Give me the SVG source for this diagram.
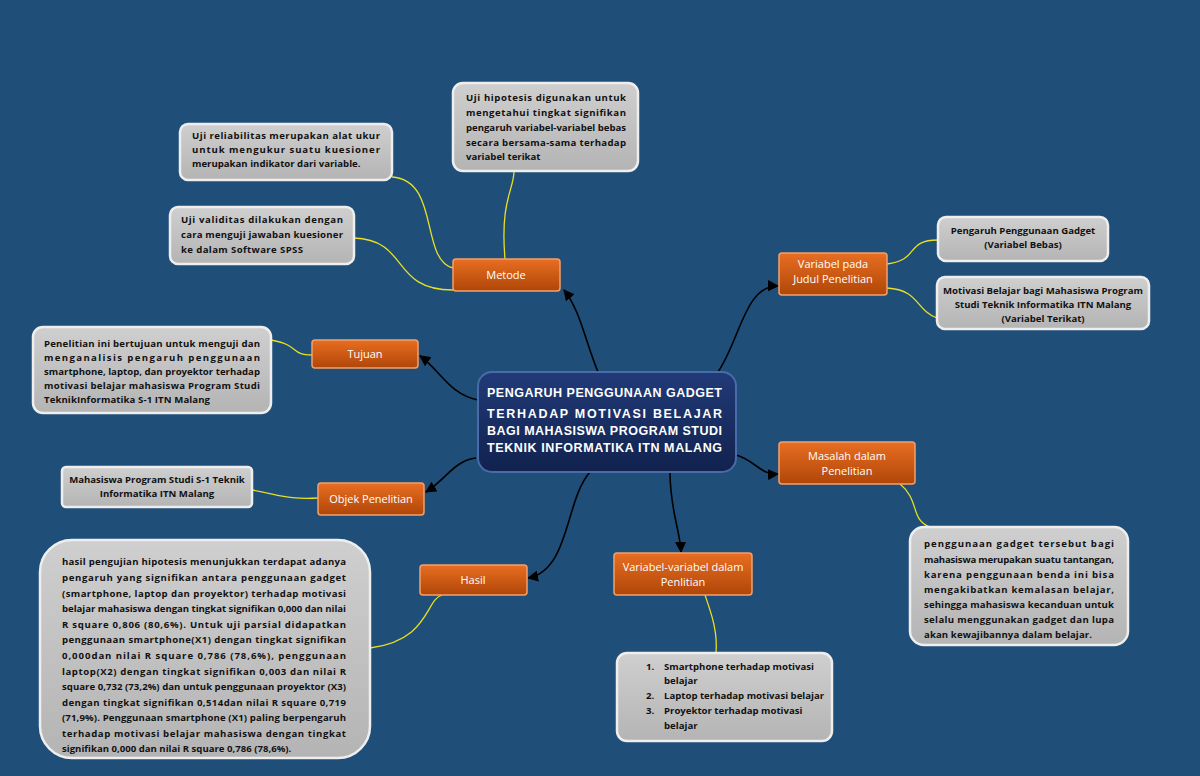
<svg xmlns="http://www.w3.org/2000/svg" width="1200" height="776" viewBox="0 0 1200 776">
<defs>
<linearGradient id="og" x1="0" y1="0" x2="0" y2="1"><stop offset="0" stop-color="#e86e22"/><stop offset="1" stop-color="#b04608"/></linearGradient>
<linearGradient id="gg" x1="0" y1="0" x2="0" y2="1"><stop offset="0" stop-color="#cfcfcf"/><stop offset="1" stop-color="#b4b4b4"/></linearGradient>
<linearGradient id="cg" x1="0" y1="0" x2="0" y2="1"><stop offset="0" stop-color="#213a78"/><stop offset="1" stop-color="#11224e"/></linearGradient>
<marker id="ar" viewBox="0 0 10 10" refX="9" refY="5" markerWidth="7" markerHeight="7" orient="auto"><path d="M0,0L10,5L0,10z" fill="#000"/></marker>
<style>
.o{fill:url(#og);stroke:#f3a06a;stroke-width:1.5}
.g{fill:url(#gg);stroke:#eeeeee;stroke-width:2.5}
.ot{font-family:"Open Sans","Liberation Sans",sans-serif;font-size:11px;fill:#fff;text-anchor:middle}
.t{font-family:"Open Sans","Liberation Sans",sans-serif;font-size:9.6px;font-weight:bold;fill:#111}
.c{font-family:"Liberation Sans",Arial,sans-serif;font-size:12.5px;font-weight:bold;fill:#fff}
.k{fill:none;stroke:#000;stroke-width:1.6;marker-end:url(#ar)}
.y{fill:none;stroke:#e8e020;stroke-width:1.3}
</style>
</defs>
<rect width="1200" height="776" fill="#1f4e79"/>
<g id="connectors">
<path class="k" d="M598,372 C585,340 580,310 564,290"/>
<path class="k" d="M478,400 C450,395 440,370 420,356"/>
<path class="k" d="M476,458 C455,460 445,480 426,492"/>
<path class="k" d="M590,472 C565,500 570,570 528,578"/>
<path class="k" d="M670,472 C670,510 680,530 681,552"/>
<path class="k" d="M736,455 C755,460 760,475 778,474"/>
<path class="k" d="M718,372 C740,340 745,285 778,286"/>
<path class="y" d="M514,171 C514,190 500,200 505,259"/>
<path class="y" d="M392,177 C440,180 420,260 453,268"/>
<path class="y" d="M354,238 C410,240 390,290 453,290"/>
<path class="y" d="M271,340 C300,345 290,355 312,355"/>
<path class="y" d="M252,490 C280,495 290,500 318,498"/>
<path class="y" d="M442,595 C425,600 430,640 370,648"/>
<path class="y" d="M705,595 C710,610 718,630 716,653"/>
<path class="y" d="M900,484 C920,500 910,520 930,527"/>
<path class="y" d="M887,264 C920,260 905,240 938,240"/>
<path class="y" d="M887,288 C920,290 915,310 937,318"/>
</g>
<g id="center">
<rect x="478" y="372" width="258" height="100" rx="14" fill="url(#cg)" stroke="#4a6aaa" stroke-width="2"/>
<text class="c" x="487" y="397" textLength="235" lengthAdjust="spacing">PENGARUH PENGGUNAAN GADGET</text>
<text class="c" x="487" y="418" textLength="235" lengthAdjust="spacing">TERHADAP MOTIVASI BELAJAR</text>
<text class="c" x="487" y="435" textLength="235" lengthAdjust="spacing">BAGI MAHASISWA PROGRAM STUDI</text>
<text class="c" x="487" y="452" textLength="235" lengthAdjust="spacing">TEKNIK INFORMATIKA ITN MALANG</text>
</g>
<g id="metode"><rect class="o" x="453" y="259" width="107" height="32" rx="3"/><text class="ot" x="506" y="279">Metode</text></g>
<g id="tujuan"><rect class="o" x="312" y="340" width="106" height="28" rx="3"/><text class="ot" x="365" y="358">Tujuan</text></g>
<g id="objek"><rect class="o" x="318" y="483" width="106" height="32" rx="3"/><text class="ot" x="371" y="503">Objek Penelitian</text></g>
<g id="hasil"><rect class="o" x="420" y="565" width="107" height="30" rx="3"/><text class="ot" x="473" y="584">Hasil</text></g>
<g id="varvar"><rect class="o" x="614" y="553" width="138" height="42" rx="3"/><text class="ot" x="683" y="571">Variabel-variabel dalam</text><text class="ot" x="683" y="586">Penlitian</text></g>
<g id="masalah"><rect class="o" x="779" y="442" width="136" height="42" rx="3"/><text class="ot" x="847" y="460">Masalah dalam</text><text class="ot" x="847" y="475">Penelitian</text></g>
<g id="varjudul"><rect class="o" x="779" y="253" width="108" height="42" rx="3"/><text class="ot" x="833" y="268">Variabel pada</text><text class="ot" x="833" y="283">Judul Penelitian</text></g>
<g id="ujihip"><rect class="g" x="453" y="83" width="185" height="88" rx="10"/>
<text class="t" x="466" y="101" textLength="160" lengthAdjust="spacing">Uji hipotesis digunakan untuk</text>
<text class="t" x="466" y="116" textLength="160" lengthAdjust="spacing">mengetahui tingkat signifikan</text>
<text class="t" x="466" y="131" textLength="160" lengthAdjust="spacing">pengaruh variabel-variabel bebas</text>
<text class="t" x="466" y="146" textLength="160" lengthAdjust="spacing">secara bersama-sama terhadap</text>
<text class="t" x="466" y="160">variabel terikat</text></g>
<g id="ujirel"><rect class="g" x="180" y="124" width="212" height="56" rx="8"/>
<text class="t" x="192" y="139" textLength="188" lengthAdjust="spacing">Uji reliabilitas merupakan alat ukur</text>
<text class="t" x="192" y="153" textLength="188" lengthAdjust="spacing">untuk mengukur suatu kuesioner</text>
<text class="t" x="192" y="167">merupakan indikator dari variable.</text></g>
<g id="ujival"><rect class="g" x="170" y="207" width="184" height="57" rx="8"/>
<text class="t" x="181" y="223" textLength="162" lengthAdjust="spacing">Uji validitas dilakukan dengan</text>
<text class="t" x="181" y="238" textLength="162" lengthAdjust="spacing">cara menguji jawaban kuesioner</text>
<text class="t" x="181" y="253" textLength="122" lengthAdjust="spacing">ke dalam Software SPSS</text></g>
<g id="tujtext"><rect class="g" x="33" y="327" width="238" height="86" rx="10"/>
<text class="t" x="44" y="347" textLength="216" lengthAdjust="spacing">Penelitian ini bertujuan untuk menguji dan</text>
<text class="t" x="44" y="361" textLength="216" lengthAdjust="spacing">menganalisis pengaruh penggunaan</text>
<text class="t" x="44" y="375" textLength="216" lengthAdjust="spacing">smartphone, laptop, dan proyektor terhadap</text>
<text class="t" x="44" y="389" textLength="216" lengthAdjust="spacing">motivasi belajar mahasiswa Program Studi</text>
<text class="t" x="44" y="403" textLength="166" lengthAdjust="spacing">TeknikInformatika S-1 ITN Malang</text></g>
<g id="objtext"><rect class="g" x="62" y="467" width="190" height="40" rx="4"/>
<text class="t" x="157" y="483" text-anchor="middle">Mahasiswa Program Studi S-1 Teknik</text>
<text class="t" x="157" y="497" text-anchor="middle">Informatika ITN Malang</text></g>
<g id="hasiltext"><rect class="g" x="40" y="540" width="330" height="218" rx="32"/>
<g>
<text class="t" x="62" y="565" textLength="284" lengthAdjust="spacing">hasil pengujian  hipotesis menunjukkan terdapat adanya</text>
<text class="t" x="62" y="581" textLength="284" lengthAdjust="spacing">pengaruh yang signifikan antara penggunaan gadget</text>
<text class="t" x="62" y="597" textLength="284" lengthAdjust="spacing">(smartphone, laptop dan proyektor) terhadap motivasi</text>
<text class="t" x="62" y="612" textLength="284" lengthAdjust="spacing">belajar mahasiswa dengan tingkat signifikan 0,000 dan nilai</text>
<text class="t" x="62" y="628" textLength="284" lengthAdjust="spacing">R  square  0,806 (80,6%). Untuk uji parsial didapatkan</text>
<text class="t" x="62" y="643" textLength="284" lengthAdjust="spacing">penggunaan smartphone(X1) dengan tingkat signifikan</text>
<text class="t" x="62" y="659" textLength="284" lengthAdjust="spacing">0,000dan  nilai  R  square  0,786 (78,6%), penggunaan</text>
<text class="t" x="62" y="675" textLength="284" lengthAdjust="spacing">laptop(X2) dengan tingkat signifikan 0,003 dan nilai R</text>
<text class="t" x="62" y="690" textLength="284" lengthAdjust="spacing">square 0,732 (73,2%) dan untuk penggunaan proyektor (X3)</text>
<text class="t" x="62" y="706" textLength="284" lengthAdjust="spacing">dengan tingkat signifikan 0,514dan nilai R square 0,719</text>
<text class="t" x="62" y="721" textLength="284" lengthAdjust="spacing">(71,9%). Penggunaan smartphone (X1) paling berpengaruh</text>
<text class="t" x="62" y="737" textLength="284" lengthAdjust="spacing">terhadap motivasi belajar mahasiswa dengan tingkat</text>
<text class="t" x="62" y="752">signifikan 0,000 dan nilai R square 0,786 (78,6%).</text>
</g></g>
<g id="listtext"><rect class="g" x="617" y="653" width="215" height="88" rx="10"/>
<text class="t" x="646" y="670">1.</text><text class="t" x="664" y="670">Smartphone terhadap motivasi</text>
<text class="t" x="664" y="684">belajar</text>
<text class="t" x="646" y="699">2.</text><text class="t" x="664" y="699">Laptop terhadap motivasi belajar</text>
<text class="t" x="646" y="714">3.</text><text class="t" x="664" y="714">Proyektor terhadap motivasi</text>
<text class="t" x="664" y="729">belajar</text></g>
<g id="masalahtext"><rect class="g" x="910" y="527" width="218" height="118" rx="14"/>
<text class="t" x="924" y="547" textLength="190" lengthAdjust="spacing">penggunaan gadget tersebut bagi</text>
<text class="t" x="924" y="563" textLength="190" lengthAdjust="spacing">mahasiswa merupakan suatu tantangan,</text>
<text class="t" x="924" y="578" textLength="190" lengthAdjust="spacing">karena penggunaan benda ini bisa</text>
<text class="t" x="924" y="593" textLength="190" lengthAdjust="spacing">mengakibatkan kemalasan belajar,</text>
<text class="t" x="924" y="608" textLength="190" lengthAdjust="spacing">sehingga mahasiswa kecanduan untuk</text>
<text class="t" x="924" y="623" textLength="190" lengthAdjust="spacing">selalu menggunakan gadget dan lupa</text>
<text class="t" x="924" y="638" textLength="168" lengthAdjust="spacing">akan kewajibannya dalam belajar.</text></g>
<g id="bebas"><rect class="g" x="938" y="217" width="170" height="44" rx="8"/>
<text class="t" x="1023" y="234" text-anchor="middle">Pengaruh Penggunaan Gadget</text>
<text class="t" x="1023" y="248" text-anchor="middle">(Variabel Bebas)</text></g>
<g id="terikat"><rect class="g" x="937" y="277" width="212" height="52" rx="8"/>
<text class="t" x="1043" y="294" text-anchor="middle">Motivasi Belajar bagi Mahasiswa Program</text>
<text class="t" x="1043" y="308" text-anchor="middle">Studi Teknik Informatika ITN Malang</text>
<text class="t" x="1043" y="322" text-anchor="middle">(Variabel Terikat)</text></g>
</svg>
